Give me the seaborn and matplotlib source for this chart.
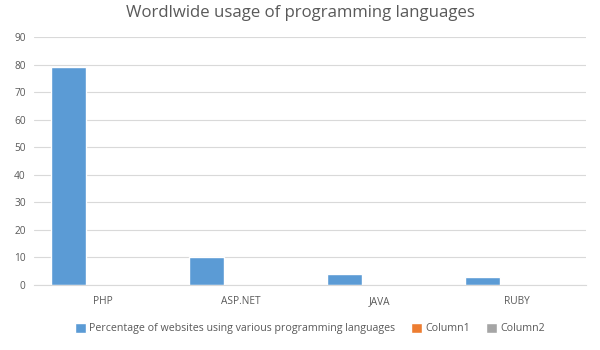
import matplotlib
matplotlib.use("Agg")
import matplotlib.pyplot as plt
import seaborn as sns
import pandas as pd

categories = ["PHP", "ASP.NET", "JAVA", "RUBY"]
series_names = ["Percentage of websites using various programming languages", "Column1", "Column2"]
usage = [79, 10, 4, 3]
column1 = [0, 0, 0, 0]
column2 = [0, 0, 0, 0]
colors = ["#5B9BD5", "#ED7D31", "#A5A5A5"]

rows = []
for s, vals in zip(series_names, [usage, column1, column2]):
    for c, v in zip(categories, vals):
        rows.append({"cat": c, "series": s, "value": v})
df = pd.DataFrame(rows)

sns.set_style("white")
plt.rcParams["font.family"] = ["Open Sans", "DejaVu Sans"]

fig = plt.figure(figsize=(6, 3.5), dpi=100)
ax = fig.add_axes([0.0567, 0.186, 0.92, 0.708])
sns.barplot(data=df, x="cat", y="value", hue="series", palette=colors,
            width=0.75, ax=ax, saturation=1, errorbar=None)

ax.set_ylim(0, 90)
ax.set_yticks(range(0, 91, 10))
ax.set_xlim(-0.5, 3.5)
ax.set_xlabel("")
ax.set_ylabel("")
ax.grid(axis="y", color="#D9D9D9", linewidth=0.8)
ax.set_axisbelow(True)
for s in ["left", "right", "top"]:
    ax.spines[s].set_visible(False)
ax.spines["bottom"].set_color("#D9D9D9")
ax.tick_params(axis="both", length=0, colors="#595959", labelsize=7.3)
ax.tick_params(axis="x", pad=8)
ax.tick_params(axis="y", pad=6)

fig.suptitle("Wordlwide usage of programming languages", y=0.985, fontsize=12.1, color="#595959")

leg = ax.legend(loc="upper center", bbox_to_anchor=(0.5, -0.115), ncol=3, frameon=False,
                fontsize=7.7, handlelength=1.0, handleheight=1.0, handletextpad=0.3,
                columnspacing=1.5)
for t in leg.get_texts():
    t.set_color("#595959")

fig.savefig("out.png", dpi=100)
